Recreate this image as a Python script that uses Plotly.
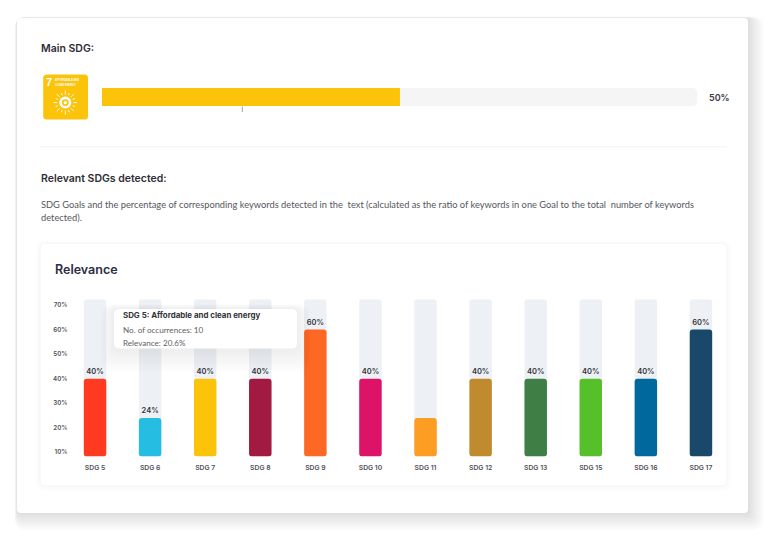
import math
import plotly.graph_objects as go

# --- data ---
goals = ["SDG 5", "SDG 6", "SDG 7", "SDG 8", "SDG 9", "SDG 10",
         "SDG 11", "SDG 12", "SDG 13", "SDG 15", "SDG 16", "SDG 17"]
relevance = [40, 24, 40, 40, 60, 40, 24, 40, 40, 40, 40, 60]
value_labels = ["40%", "24%", "40%", "40%", "60%", "40%", "", "40%", "40%", "40%", "40%", "60%"]
goal_colors = ["#FF3A21", "#26BDE2", "#FCC30B", "#A21942", "#FD6925", "#DD1367",
               "#FD9D24", "#BF8B2E", "#3F7E44", "#56C02B", "#00689D", "#19486A"]
tick_values = [10, 20, 30, 40, 50, 60, 70]
tick_labels = ["10%", "20%", "30%", "40%", "50%", "60%", "70%"]
axis_floor = 8.3
axis_ceiling = 72.3
main_share = 50
main_full = 100
main_square_from = 20

W, H = 768, 536
HEAD = "Inter"
BODY = "Lato"


def px(x):
    return x / W


def py(y):
    return 1 - y / H


def round_rect(x0, y0, x1, y1, r, fill, line="rgba(0,0,0,0)", layer="below", opacity=1, lw=1):
    path = (f"M {px(x0 + r)} {py(y0)} L {px(x1 - r)} {py(y0)} Q {px(x1)} {py(y0)} {px(x1)} {py(y0 + r)} "
            f"L {px(x1)} {py(y1 - r)} Q {px(x1)} {py(y1)} {px(x1 - r)} {py(y1)} "
            f"L {px(x0 + r)} {py(y1)} Q {px(x0)} {py(y1)} {px(x0)} {py(y1 - r)} "
            f"L {px(x0)} {py(y0 + r)} Q {px(x0)} {py(y0)} {px(x0 + r)} {py(y0)} Z")
    return dict(type="path", xref="paper", yref="paper", path=path, fillcolor=fill,
                line=dict(color=line, width=lw), layer=layer, opacity=opacity)


def soft_shadow(x0, y0, x1, y1, r, steps, left, top, right, bottom, alpha, layer="below"):
    # stacked translucent plates, each growing by its own amount per side
    out = []
    for i in range(steps, 0, -1):
        out.append(round_rect(x0 - i * left, y0 - i * top, x1 + i * right, y1 + i * bottom, r + i * 0.5,
                              f"rgba(60,60,60,{alpha})", layer=layer))
    return out


def line_seg(x0, y0, x1, y1, color, width=1, layer="below"):
    return dict(type="line", xref="paper", yref="paper", x0=px(x0), y0=py(y0), x1=px(x1), y1=py(y1),
                line=dict(color=color, width=width), layer=layer)


def circle(cx, cy, r, fill):
    return dict(type="circle", xref="paper", yref="paper", x0=px(cx - r), x1=px(cx + r),
                y0=py(cy - r), y1=py(cy + r), fillcolor=fill, line=dict(width=0), layer="below")


def label(x, y, text, size, color, family=BODY, weight=400, anchor="left"):
    return dict(xref="paper", yref="paper", x=px(x), y=py(y), text=text, showarrow=False,
                xanchor=anchor, yanchor="middle", borderpad=0,
                font=dict(family=family, size=size, color=color, weight=weight))


shapes = []
# outer sheet with its drop shadow
shapes += soft_shadow(17, 18, 748, 513, 4, 16, 0.15, 0.1, 1.0, 1.1, 0.011)
shapes.append(round_rect(17, 18, 748, 513, 4, "#FFFFFF"))
shapes.append(line_seg(40, 146.8, 727, 146.8, "#F1F2F3"))

# inner chart card
shapes += soft_shadow(40, 243, 727, 486, 6, 5, 1, 0.6, 1, 1.2, 0.004)
shapes.append(round_rect(40, 243, 727, 486, 6, "#FFFFFF", line="#F4F5F6"))

# goal badge
SUN_X, SUN_Y = 65.3, 102.6
shapes.append(round_rect(43.2, 74.5, 88, 119.4, 3.5, "#FCC30B"))
for k in range(16):
    a = 2 * math.pi * k / 16
    r0, r1 = (8, 12) if k % 2 == 0 else (8, 10.5)
    shapes.append(line_seg(SUN_X + r0 * math.cos(a), SUN_Y + r0 * math.sin(a),
                           SUN_X + r1 * math.cos(a), SUN_Y + r1 * math.sin(a), "#FFFFFF", 0.9))
shapes.append(circle(SUN_X, SUN_Y, 6, "#FFFFFF"))
shapes.append(circle(SUN_X, SUN_Y, 3.4, "#FCC30B"))
shapes.append(circle(SUN_X, SUN_Y, 1.6, "#FFFFFF"))

# small mark below the progress bar
shapes.append(line_seg(242.3, 106.5, 242.3, 112, "#8A8A8A", 0.8))

# floating tooltip, drawn over the bars
shapes += soft_shadow(114, 309, 297, 348, 5, 18, 0.8, 0.3, 0.8, 1.4, 0.0055, layer="above")
shapes.append(round_rect(114, 309, 297, 348.5, 5, "#FFFFFF", layer="above"))

annotations = [
    label(40, 49, "Main SDG:", 10.5, "#2E2E33", HEAD, 600),
    label(40, 178, "Relevant SDGs detected:", 10.5, "#2E2E33", HEAD, 600),
    label(40, 204.3, "SDG Goals and the percentage of corresponding keywords detected in the  text "
                     "(calculated as the ratio of keywords in one Goal to the total  number of keywords",
          9.3, "#55565C"),
    label(40, 217.7, "detected).", 9.3, "#55565C"),
    label(708, 97.8, "50%", 9, "#3A3A3F", HEAD, 600),
    label(54, 269, "Relevance", 12.5, "#2B2D42", HEAD, 600),
    label(121.5, 314.7, "SDG 5: Affordable and clean energy", 7.9, "#333338", HEAD, 700),
    label(121.5, 330, "No. of occurrences: 10", 8.1, "#5F6066"),
    label(121.5, 343, "Relevance: 20.6%", 8.1, "#5F6066"),
    label(45, 82.5, "7", 11, "#FFFFFF", "Liberation Sans", 700),
    label(53.5, 80, "AFFORDABLE AND", 2.6, "#FFFFFF", "Liberation Sans", 700),
    label(53.5, 85.5, "CLEAN ENERGY", 2.6, "#FFFFFF", "Liberation Sans", 700),
]

fig = go.Figure()

# full-height pale tracks behind each column
fig.add_trace(go.Bar(
    x=goals, y=[axis_ceiling - axis_floor] * len(goals), base=axis_floor, width=0.408,
    marker=dict(color="#EDF1F5", cornerradius=3, line=dict(width=0)),
    hoverinfo="skip", showlegend=False,
))
# relevance columns rising from the axis floor
fig.add_trace(go.Bar(
    x=goals, y=[v - axis_floor for v in relevance], base=axis_floor, width=0.408,
    marker=dict(color=goal_colors, cornerradius=3, line=dict(width=0)),
    text=value_labels, textposition="outside", cliponaxis=False,
    textfont=dict(family=HEAD, size=7.5, color="#333338", weight=600),
    showlegend=False,
))

# main-goal progress bar
fig.add_trace(go.Bar(
    x=[main_full], y=["main"], orientation="h", xaxis="x2", yaxis="y2", width=1,
    marker=dict(color="#F5F5F5", cornerradius=5, line=dict(width=0)),
    hoverinfo="skip", showlegend=False,
))
fig.add_trace(go.Bar(
    x=[main_share], y=["main"], orientation="h", xaxis="x2", yaxis="y2", width=1,
    marker=dict(color="#FCC30B", cornerradius=5, line=dict(width=0)),
    showlegend=False,
))
# squared-off leading edge of the fill
fig.add_trace(go.Bar(
    x=[main_share - main_square_from], base=main_square_from, y=["main"], orientation="h",
    xaxis="x2", yaxis="y2", width=1,
    marker=dict(color="#FCC30B", line=dict(width=0)),
    hoverinfo="skip", showlegend=False,
))

fig.update_layout(
    width=W, height=H, margin=dict(l=0, r=0, t=0, b=0),
    paper_bgcolor="#FFFFFF", plot_bgcolor="rgba(0,0,0,0)",
    barmode="overlay", showlegend=False,
    shapes=shapes, annotations=annotations,
    xaxis=dict(domain=[px(67.5), px(728.5)], type="category", categoryorder="array", categoryarray=goals,
               showgrid=False, zeroline=False, showline=False, ticks="", ticklabelstandoff=6,
               tickfont=dict(family=HEAD, size=6.8, color="#505157", weight=600), anchor="y"),
    yaxis=dict(domain=[py(456.5), py(299.3)], range=[axis_floor, axis_ceiling],
               tickvals=tick_values, ticktext=tick_labels, showgrid=False, zeroline=False,
               showline=False, ticks="", ticklabelstandoff=-1,
               tickfont=dict(family=HEAD, size=6.2, color="#505157", weight=600),
               anchor="x"),
    xaxis2=dict(domain=[px(102), px(697.5)], range=[0, main_full], visible=False, anchor="y2"),
    yaxis2=dict(domain=[py(106), py(88)], range=[-0.5, 0.5], type="category", visible=False, anchor="x2"),
)

fig.write_html("out.html", config=dict(displayModeBar=False))
